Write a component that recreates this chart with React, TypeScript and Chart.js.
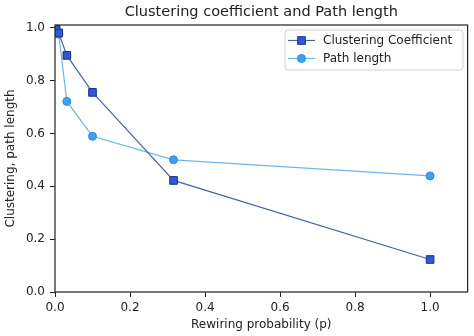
import React, { useEffect, useRef } from "react";
import { Chart, registerables } from "chart.js";

Chart.register(...registerables);

const pValues = [0.0001, 0.000316, 0.001, 0.00316, 0.01, 0.0316, 0.1, 0.316, 1.0];
const clustering = [1.0, 1.0, 0.998, 0.993, 0.98, 0.895, 0.755, 0.422, 0.123];
const pathLength = [1.0, 0.997, 0.992, 0.985, 0.975, 0.721, 0.589, 0.5, 0.439];
const xTicks = [0.0, 0.2, 0.4, 0.6, 0.8, 1.0];
const yTicks = [0.0, 0.2, 0.4, 0.6, 0.8, 1.0];
const titleText = "Clustering coefficient and Path length";
const xLabel = "Rewiring probability (p)";
const yLabel = "Clustering, path length";
const seriesNames = ["Clustering Coefficient", "Path length"];

const FONT = "'DejaVu Sans', sans-serif";
const TEXT = "#222";

const framePlugin = {
  id: "frameAndExtras",
  afterDraw(chart: any) {
    const { ctx, chartArea } = chart;
    const { left, right, top, bottom } = chartArea;
    ctx.save();
    // frame
    ctx.strokeStyle = "#222";
    ctx.lineWidth = 1.2;
    ctx.strokeRect(left, top, right - left, bottom - top);
    // title
    ctx.fillStyle = TEXT;
    ctx.font = `14.5px ${FONT}`;
    ctx.textAlign = "center";
    ctx.textBaseline = "middle";
    ctx.fillText(titleText, (left + right) / 2, 12);
    // legend
    const bx = 285, by = 30, bw = 178, bh = 40, r = 3;
    ctx.beginPath();
    ctx.moveTo(bx + r, by);
    ctx.lineTo(bx + bw - r, by);
    ctx.quadraticCurveTo(bx + bw, by, bx + bw, by + r);
    ctx.lineTo(bx + bw, by + bh - r);
    ctx.quadraticCurveTo(bx + bw, by + bh, bx + bw - r, by + bh);
    ctx.lineTo(bx + r, by + bh);
    ctx.quadraticCurveTo(bx, by + bh, bx, by + bh - r);
    ctx.lineTo(bx, by + r);
    ctx.quadraticCurveTo(bx, by, bx + r, by);
    ctx.closePath();
    ctx.fillStyle = "rgba(255,255,255,0.85)";
    ctx.fill();
    ctx.strokeStyle = "#d0d0d0";
    ctx.lineWidth = 1;
    ctx.stroke();
    const rows = [40.5, 58.5];
    chart.data.datasets.forEach((ds: any, i: number) => {
      const y = rows[i];
      ctx.strokeStyle = ds.borderColor;
      ctx.lineWidth = ds.borderWidth;
      ctx.beginPath();
      ctx.moveTo(288, y);
      ctx.lineTo(315, y);
      ctx.stroke();
      ctx.fillStyle = ds.pointBackgroundColor;
      ctx.strokeStyle = ds.pointBorderColor;
      ctx.lineWidth = 1;
      const cx = 301.5;
      if (ds.pointStyle === "rect") {
        ctx.fillRect(cx - 3.8, y - 3.8, 7.6, 7.6);
        ctx.strokeRect(cx - 3.8, y - 3.8, 7.6, 7.6);
      } else {
        ctx.beginPath();
        ctx.arc(cx, y, 4, 0, Math.PI * 2);
        ctx.fill();
        ctx.stroke();
      }
      ctx.fillStyle = TEXT;
      ctx.font = `12px ${FONT}`;
      ctx.textAlign = "left";
      ctx.textBaseline = "middle";
      ctx.fillText(ds.label, 323, y);
    });
    ctx.restore();
  },
};

export default function App() {
  const ref = useRef<HTMLCanvasElement | null>(null);
  useEffect(() => {
    document.body.style.margin = "0";
    const canvas = ref.current!;
    const chart = new Chart(canvas, {
      type: "line",
      data: {
        datasets: [
          {
            label: seriesNames[0],
            data: pValues.map((p, i) => ({ x: p, y: clustering[i] })),
            borderColor: "#4a64a0",
            borderWidth: 1.2,
            pointStyle: "rect",
            pointRadius: 5.4,
            pointBackgroundColor: "#2f5bd0",
            pointBorderColor: "#1b2f8f",
            pointBorderWidth: 1,
            tension: 0,
            clip: 0,
          } as any,
          {
            label: seriesNames[1],
            data: pValues.map((p, i) => ({ x: p, y: pathLength[i] })),
            borderColor: "#6fb6e6",
            borderWidth: 1.2,
            pointStyle: "circle",
            pointRadius: 4,
            pointBackgroundColor: "#3fa0f0",
            pointBorderColor: "#2b8de0",
            pointBorderWidth: 1,
            tension: 0,
            clip: 0,
          } as any,
        ],
      },
      options: {
        responsive: false,
        animation: false,
        layout: { padding: { top: 25, right: 5, left: 0, bottom: 0 } },
        plugins: { legend: { display: false }, title: { display: false }, tooltip: { enabled: false } },
        scales: {
          x: {
            type: "linear",
            min: 0,
            max: 1.1,
            afterBuildTicks: (s: any) => {
              s.ticks = xTicks.map((v) => ({ value: v }));
            },
            afterFit: (s: any) => {
              s.height = 44;
            },
            border: { display: false },
            grid: { display: true, drawOnChartArea: false, drawTicks: true, tickLength: 5, tickColor: "#222" },
            ticks: {
              autoSkip: false,
              maxRotation: 0,
              padding: 4,
              color: TEXT,
              font: { family: FONT, size: 12 },
              callback: (v: any) => Number(v).toFixed(1),
            },
            title: { display: true, text: xLabel, color: TEXT, font: { family: FONT, size: 12 }, padding: { top: 4, bottom: 4 } },
          },
          y: {
            type: "linear",
            min: 0,
            max: 1.01,
            afterBuildTicks: (s: any) => {
              s.ticks = yTicks.map((v) => ({ value: v }));
            },
            afterFit: (s: any) => {
              s.width = 55;
            },
            border: { display: false },
            grid: { display: true, drawOnChartArea: false, drawTicks: true, tickLength: 5, tickColor: "#222" },
            ticks: {
              autoSkip: false,
              padding: 5,
              color: TEXT,
              font: { family: FONT, size: 12 },
              callback: (v: any) => Number(v).toFixed(1),
            },
            title: { display: true, text: yLabel, color: TEXT, font: { family: FONT, size: 12 }, padding: { top: 4, bottom: 4 } },
          },
        },
      },
      plugins: [framePlugin],
    });
    return () => chart.destroy();
  }, []);
  return <canvas ref={ref} width={474} height={336} style={{ display: "block" }} />;
}
